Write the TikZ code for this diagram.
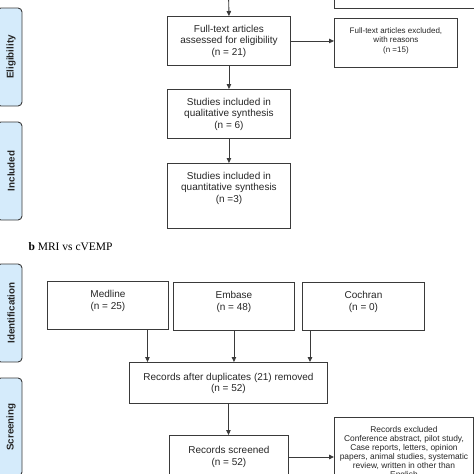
\documentclass[tikz,border=0pt]{standalone}
\usepackage{fontspec}
\setmainfont{Liberation Sans}
\newfontfamily\titlefont{Liberation Serif}
\usetikzlibrary{positioning,arrows.meta}

\definecolor{boxline}{HTML}{3A3A3A}
\definecolor{tabblue}{HTML}{D5EBFB}

\begin{document}
\begin{tikzpicture}[x=1pt, y=-1pt,
  box/.style={draw=boxline, line width=0.9pt, anchor=north west, align=center,
    inner sep=0pt, text=black!85, font=\fontsize{10}{11.7}\selectfont},
  smallbox/.style={box, font=\fontsize{8}{9.6}\selectfont},
  arr/.style={draw=boxline, line width=0.9pt, -{Triangle[length=5pt,width=4.5pt]}},
  tab/.style={draw=boxline, line width=0.9pt, fill=tabblue, rounded corners=4pt},
  tablabel/.style={rotate=90, text=black!85, font=\fontsize{9.8}{12}\selectfont\bfseries}]

\useasboundingbox (0,0) rectangle (474,474);

% side tabs
\foreach \ya/\yb/\lab in {8/106/Eligibility, 122/220/Included, 264/362/Identification, 378/476/Screening}{
  \draw[tab] (-3,\ya) rectangle (22,\yb);
  \node[tablabel] (tab-\lab) at (11,{(\ya+\yb)/2}) {\lab};
}

% part a (lower half of it)
\node[box, minimum width=150pt, text height=15.6pt, text depth=32.4pt] (scrExcl) at (334,-40) {};
\coordinate (fromTop) at (228.5,-10);
\node[box, minimum width=123pt, text height=39pt, text depth=10pt] (fullText) at (167,16) {Full-text articles\\assessed for eligibility\\(n = 21)};
\node[smallbox, minimum width=123pt, text height=34.1pt, text depth=14.9pt] (ftExcl) at (334,18) {Full-text articles excluded,\\with reasons\\(n =15)};
\node[box, minimum width=123pt, text height=39pt, text depth=10pt] (qual) at (167,89) {Studies included in\\qualitative synthesis\\(n = 6)};
\node[box, minimum width=123pt, text height=39pt, text depth=26pt] (quant) at (167,163) {Studies included in\\quantitative synthesis\\(n =3)};

\draw[arr] (fromTop) -- (fullText.north);
\draw[arr] (fullText.east) -- (fullText.east -| ftExcl.west);
\draw[arr] (fullText.south) -- (qual.north);
\draw[arr] (qual.south) -- (quant.north);

% part b
\node[anchor=west, font=\titlefont\fontsize{11.5}{14}\selectfont] (title) at (25,247) {\textbf{b} MRI vs cVEMP};

\node[box, font=\fontsize{10}{12.5}\selectfont, minimum width=121pt, text height=28.1pt, text depth=19.9pt] (medline) at (47,281) {Medline\\(n = 25)};
\node[box, font=\fontsize{10}{12.5}\selectfont, minimum width=121pt, text height=28.1pt, text depth=19.9pt] (embase) at (173,282) {Embase\\(n = 48)};
\node[box, font=\fontsize{10}{12.5}\selectfont, minimum width=122pt, text height=28.1pt, text depth=19.9pt] (cochran) at (302,282) {Cochran\\(n = 0)};
\node[box, minimum width=198pt, text height=29.3pt, text depth=11.7pt] (dup) at (129,362) {Records after duplicates (21) removed\\(n = 52)};
\node[box, font=\fontsize{10}{12.5}\selectfont, minimum width=119pt, text height=30.1pt, text depth=19.9pt] (screened) at (169,435) {Records screened\\(n = 52)};
\node[smallbox, font=\fontsize{8.4}{9}\selectfont, minimum width=139pt, text height=60pt, text depth=20pt] (recExcl) at (334,417) {Records excluded\\Conference abstract, pilot study,\\Case reports, letters, opinion\\papers, animal studies, systematic\\review, written in other than\\English};

\draw[arr] ([xshift=39.5pt]medline.south) -- ([xshift=39.5pt]medline.south |- dup.north);
\draw[arr] (embase.south) -- (embase.south |- dup.north);
\draw[arr] ([xshift=8pt]cochran.south west) -- ([xshift=8pt]cochran.south west |- dup.north);
\draw[arr] (dup.south) -- (dup.south |- screened.north);
\draw[arr] ([yshift=-22pt]screened.north east) -- ([yshift=-22pt]screened.north east -| recExcl.west);
\end{tikzpicture}
\end{document}
